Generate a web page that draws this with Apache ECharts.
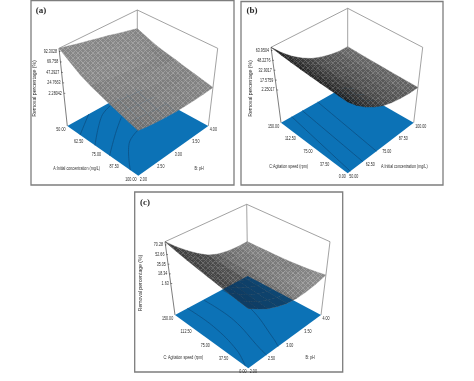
<!DOCTYPE html>
<html>
<head>
<meta charset="utf-8">
<script src="https://cdn.jsdelivr.net/npm/echarts@6/dist/echarts.min.js"></script>
<style>
html, body { margin: 0; padding: 0; background: #fff; }
#main { width: 474px; height: 381px; }
</style>
</head>
<body>
<div id="main"></div>
<script>
// removal percentage, rows run along the left-front floor edge
var surfaceA = [
    [92.3, 87.6, 82.9, 78.6, 74, 69.8, 64.6, 59.8, 55],
    [77, 73.3, 69.5, 65.8, 62, 58.3, 54.5, 50.8, 47],
    [63, 59.7, 56.5, 53.5, 50.5, 47.7, 45, 42.5, 40],
    [53, 49.9, 47, 44.4, 42, 39.9, 38, 36.4, 35],
    [46, 42.8, 40, 37.6, 35.5, 33.8, 32.5, 31.6, 31],
    [39, 35.9, 33.2, 30.8, 29, 27.6, 26.7, 26.1, 26],
    [33, 29.9, 27.3, 25.2, 23.5, 22.4, 21.8, 21.6, 22],
    [27, 23.8, 21.3, 19.2, 17.8, 17, 16.8, 17, 18],
    [22, 18.6, 16, 14, 12.6, 12, 12, 12.6, 14]
];
var surfaceB = [
    [63.9, 49, 37, 27.5, 20, 15, 11.5, 9.5, 9.5],
    [61.3, 46.9, 35.3, 26.1, 18.8, 14, 10.7, 8.8, 8.8],
    [59.1, 45.1, 33.9, 24.9, 17.8, 13.2, 10, 8.2, 8.2],
    [57.2, 43.5, 32.6, 23.9, 16.9, 12.4, 9.4, 7.7, 7.7],
    [55.6, 42.3, 31.6, 23, 16.2, 11.8, 8.9, 7.3, 7.3],
    [54.2, 41.1, 30.6, 22.3, 15.5, 11.3, 8.5, 6.9, 6.9],
    [52.9, 40.1, 29.8, 21.6, 14.9, 10.8, 8.1, 6.5, 6.5],
    [51.9, 39.2, 29.1, 21, 14.4, 10.4, 7.8, 6.2, 6.2],
    [51, 38.5, 28.5, 20.5, 14, 10, 7.5, 6, 6]
];
var surfaceC = [
    [70.3, 54, 40, 27.5, 17, 11, 8, 7, 7.7],
    [64.8, 49.7, 36.6, 25.3, 15.7, 10.5, 8.1, 7.2, 7.9],
    [60, 45.8, 33.5, 23.3, 14.6, 10, 8.2, 7.5, 8.2],
    [55.8, 42.5, 30.9, 21.5, 13.6, 9.6, 8.2, 7.9, 8.5],
    [52.1, 39.6, 28.6, 20, 12.8, 9.2, 8.3, 8.4, 9],
    [48.8, 37, 26.5, 18.6, 12, 8.9, 8.3, 9, 10],
    [45.5, 34.3, 24.4, 17.3, 11.3, 8.5, 8.4, 9.7, 11.3],
    [42.7, 32.2, 22.7, 16.1, 10.6, 8.3, 8.5, 10.3, 13.2],
    [40, 30, 21, 15, 10, 8, 8.5, 11, 15.6]
];

// floor contours as [first factor, second factor] pairs
var contoursA = [
    [[59, 2], [50, 2.61]],
    [[69.5, 2], [55.6, 2.75], [52.2, 3.13]],
    [[79.8, 2], [69.9, 2.57], [62.5, 3.04]],
    [[94.4, 2], [80, 2.55], [75.8, 2.98]]
];
var contoursB = [
    [[150, 58], [0, 52]],
    [[150, 66], [0, 61.5]],
    [[150, 77.5], [0, 71.8]]
];
var contoursC = [
    [[150, 2.34], [96.75, 2.34], [37.5, 2.19], [6, 2]],
    [[148.5, 2.78], [87.75, 2.77], [16.5, 2.54], [0, 2.5]],
    [[150, 3.29], [90, 3.26], [17, 2.92], [0, 2.82]]
];

var concentrationTicks = ['50.00', '62.50', '75.00', '87.50', '100.00'];
var agitationTicks = ['150.00', '112.50', '75.00', '37.50', '0.00'];
var phTicks = ['2.00', '2.50', '3.00', '3.50', '4.00'];
var zTicksA = ['92.3028', '69.758', '47.2927', '24.7663', '2.28042'];
var zTicksB = ['63.9504', '48.2276', '32.9017', '17.5759', '2.25017'];
var zTicksC = ['70.28', '52.66', '35.05', '18.34', '1.63'];

var zTitle = 'Removal percentage (%)';
var concentrationTitle = 'A:Initial concentration (mg/L)';
var agitationTitle = 'C:Agitation speed (rpm)';
var phTitle = 'B: pH';

var panels = [
    {
        name: '(a)', namePos: [41, 11],
        frame: [31, 0.5, 203, 184.5],
        floor: { L: [67.3, 126], F: [138.3, 175.7], R: [208.3, 126], K: [137.3, 87.3] },
        roof: { L: [59, 48.3], F: [138, 93.3], R: [217.7, 48.3], K: [137.3, 10] },
        zRange: [-63, 92.3],
        meshGray: 100,
        surface: surfaceA,
        contours: contoursA,
        uRange: [50, 100], vRange: [2, 4],
        uTicks: concentrationTicks, vTicks: phTicks, zTicks: zTicksA,
        uTitle: concentrationTitle, uTitlePos: [76.7, 168.3],
        vTitle: phTitle, vTitlePos: [199, 168.3],
        zTitlePos: [35, 88.5]
    },
    {
        name: '(b)', namePos: [252, 10.7],
        frame: [241, 1.5, 202, 183.5],
        floor: { L: [281, 122.7], F: [347.7, 173.3], R: [413.7, 122.7], K: [347.7, 85] },
        roof: { L: [271, 47.3], F: [347.7, 92.3], R: [422.7, 47.3], K: [347.7, 8.3] },
        zRange: [-45, 63.95],
        meshGray: 88,
        surface: surfaceB,
        contours: contoursB,
        uRange: [150, 0], vRange: [50, 100],
        uTicks: agitationTicks, vTicks: concentrationTicks, zTicks: zTicksB,
        uTitle: agitationTitle, uTitlePos: [288.7, 166.7],
        vTitle: concentrationTitle, vTitlePos: [404.3, 166.7],
        zTitlePos: [250.3, 88.5]
    },
    {
        name: '(c)', namePos: [145, 202.3],
        frame: [134.7, 192, 208, 180],
        floor: { L: [175, 315], F: [248.3, 368.3], R: [321, 315], K: [247.7, 276] },
        roof: { L: [165, 241.7], F: [248.3, 288.3], R: [330, 241.7], K: [246.7, 204.3] },
        zRange: [-50, 70.28],
        meshGray: 118,
        surface: surfaceC,
        contours: contoursC,
        uRange: [150, 0], vRange: [2, 4],
        seeThrough: true,
        uTicks: agitationTicks, vTicks: phTicks, zTicks: zTicksC,
        uTitle: 'C: Agitation speed (rpm)', uTitlePos: [183.3, 357.7],
        vTitle: phTitle, vTitlePos: [310, 357.7],
        zTitlePos: [141, 283]
    }
];

var BLUE = '#0c72b6';
var LINE = '#8a8a8a';
var TEXT = '#2b2b2b';
var FONT = '5.4px "Liberation Sans"';

// small tile that stands in for the fine wire mesh
var meshTile = document.createElement('canvas');
meshTile.width = meshTile.height = 5;
(function () {
    var ctx = meshTile.getContext('2d');
    for (var x = 0; x < 5; x++) {
        for (var y = 0; y < 5; y++) {
            var wire = (x + y) % 5 === 0 || (x - y + 5) % 5 === 0;
            ctx.fillStyle = wire ? 'rgba(255,255,255,0.14)' : 'rgba(0,0,0,0.07)';
            ctx.fillRect(x, y, 1, 1);
        }
    }
})();

// box scale: u runs L to F, v runs L to K, w runs floor to roof
function project(p, u, v, w) {
    function corner(c) {
        return [
            (1 - u) * (1 - v) * c.L[0] + u * (1 - v) * c.F[0] + u * v * c.R[0] + (1 - u) * v * c.K[0],
            (1 - u) * (1 - v) * c.L[1] + u * (1 - v) * c.F[1] + u * v * c.R[1] + (1 - u) * v * c.K[1]
        ];
    }
    var a = corner(p.floor), b = corner(p.roof);
    return [a[0] + (b[0] - a[0]) * w, a[1] + (b[1] - a[1]) * w];
}

function zFrac(p, z) {
    return (z - p.zRange[0]) / (p.zRange[1] - p.zRange[0]);
}

function polyArea(pts) {
    var s = 0;
    for (var i = 0; i < pts.length; i++) {
        var n = pts[(i + 1) % pts.length];
        s += pts[i][0] * n[1] - n[0] * pts[i][1];
    }
    return Math.abs(s) / 2;
}

function textEl(api, pos, text, opts) {
    var c = api.coord(pos);
    opts = opts || {};
    return {
        type: 'text',
        x: c[0],
        y: c[1],
        rotation: opts.rotation || 0,
        scaleX: opts.scaleX || 0.68,
        style: {
            text: text,
            font: opts.font || FONT,
            fill: TEXT,
            textAlign: opts.align || 'center',
            textVerticalAlign: 'middle'
        }
    };
}

function layer(items, draw, z) {
    return {
        type: 'custom',
        coordinateSystem: 'cartesian2d',
        silent: true,
        clip: false,
        animation: false,
        z: z,
        data: items.map(function (d, i) { return [i, 0]; }),
        renderItem: function (params, api) {
            return draw(items[params.dataIndex], api);
        }
    };
}

function poly(api, pts, style, closed) {
    return {
        type: closed ? 'polygon' : 'polyline',
        shape: { points: pts.map(function (q) { return api.coord(q); }) },
        style: style
    };
}

function floorOutline(p) {
    return [p.floor.L, p.floor.F, p.floor.R, p.floor.K];
}

function drawBox(p, api) {
    var lines = [
        [p.roof.L, p.roof.K, p.roof.R],
        [p.floor.R, p.roof.R],
        [p.floor.K, p.roof.K]
    ];
    var kids = lines.map(function (l) {
        return poly(api, l, { stroke: LINE, lineWidth: 0.8, fill: null }, false);
    });
    kids.push(poly(api, [p.floor.L, p.roof.L], { stroke: '#5c5c5c', lineWidth: 0.8, fill: null }, false));
    return { type: 'group', children: kids };
}

function drawFloor(p, api) {
    return poly(api, floorOutline(p), { fill: BLUE }, true);
}

function drawContours(p, api) {
    return {
        type: 'group',
        children: p.contours.map(function (line) {
            var pts = line.map(function (q) {
                return api.coord(project(p,
                    (q[0] - p.uRange[0]) / (p.uRange[1] - p.uRange[0]),
                    (q[1] - p.vRange[0]) / (p.vRange[1] - p.vRange[0]), 0));
            });
            return {
                type: 'polyline',
                shape: { points: pts, smooth: 0.4 },
                style: { stroke: '#0b4a7c', lineWidth: 0.7, fill: null }
            };
        })
    };
}

function cellPoints(p, c, lift) {
    var s = p.surface, n = s.length - 1, m = s[0].length - 1;
    return [[c.i, c.j], [c.i + 1, c.j], [c.i + 1, c.j + 1], [c.i, c.j + 1]].map(function (q) {
        return project(p, q[0] / n, q[1] / m, lift ? zFrac(p, s[q[0]][q[1]]) : 0);
    });
}

// darker where the mesh is squeezed together on screen
function cellGray(p, c) {
    var ratio = polyArea(cellPoints(p, c, true)) / polyArea(cellPoints(p, c, false));
    return Math.round(Math.max(22, Math.min(p.meshGray + 45, 12 + p.meshGray * ratio)));
}

function drawCell(c, api) {
    var g = cellGray(c.p, c);
    var col = 'rgb(' + g + ',' + g + ',' + g + ')';
    return poly(api, cellPoints(c.p, c, true), { fill: col, stroke: col, lineWidth: 0.4 }, true);
}

function drawMeshTexture(p, api) {
    var s = p.surface, n = s.length - 1, m = s[0].length - 1, pts = [], i;
    for (i = 0; i <= n; i++) pts.push(project(p, i / n, 0, zFrac(p, s[i][0])));
    for (i = 1; i <= m; i++) pts.push(project(p, 1, i / m, zFrac(p, s[n][i])));
    for (i = n - 1; i >= 0; i--) pts.push(project(p, i / n, 1, zFrac(p, s[i][m])));
    for (i = m - 1; i > 0; i--) pts.push(project(p, 0, i / m, zFrac(p, s[0][i])));
    return poly(api, pts, { fill: { image: meshTile, repeat: 'repeat' } }, true);
}

// the floor shows through the mesh where the surface hangs in front of it
function drawSeenThrough(c, api) {
    var g = cellGray(c.p, c);
    var el = poly(api, cellPoints(c.p, c, true), {
        fill: 'rgb(14,' + Math.round(42 + g * 0.24) + ',' + Math.round(72 + g * 0.36) + ')'
    }, true);
    el.clipPath = {
        type: 'polygon',
        shape: { points: floorOutline(c.p).map(function (q) { return api.coord(q); }) }
    };
    return el;
}

function drawLabels(p, api) {
    var kids = [];
    p.uTicks.forEach(function (t, i) {
        var q = project(p, i / 4, 0, 0);
        kids.push(textEl(api, [q[0] - 1.8, q[1] + 3.4], t, { align: 'right' }));
    });
    p.vTicks.forEach(function (t, i) {
        var q = project(p, 1, i / 4, 0);
        kids.push(textEl(api, [q[0] + 1.5, q[1] + 3.4], t, { align: 'left' }));
    });
    var z1 = zFrac(p, parseFloat(p.zTicks[0]));
    var z0 = zFrac(p, parseFloat(p.zTicks[4]));
    p.zTicks.forEach(function (t, i) {
        var q = project(p, 0, 0, z1 + (z0 - z1) * i / 4);
        var y = q[1] + (4 - i) * 0.8;
        kids.push(textEl(api, [q[0] - 2, y], t, { align: 'right' }));
        kids.push(poly(api, [[q[0], y], [q[0] + 1.5, y]], { stroke: '#333', lineWidth: 0.6, fill: null }, false));
    });
    kids.push(textEl(api, p.uTitlePos, p.uTitle));
    kids.push(textEl(api, p.vTitlePos, p.vTitle));
    kids.push(textEl(api, p.zTitlePos, zTitle, { rotation: Math.PI / 2, scaleX: 0.95 }));
    kids.push(textEl(api, p.namePos, p.name, { font: 'bold 9px "Liberation Serif"', scaleX: 1 }));
    return { type: 'group', children: kids };
}

function drawFrame(p, api) {
    var f = p.frame;
    var a = api.coord([f[0], f[1]]), b = api.coord([f[0] + f[2], f[1] + f[3]]);
    return {
        type: 'rect',
        shape: { x: a[0], y: a[1], width: b[0] - a[0], height: b[1] - a[1] },
        style: { fill: null, stroke: '#7d7d7d', lineWidth: 1.3 }
    };
}

var series = [layer(panels, drawFrame, 1), layer(panels, drawBox, 2)];
panels.forEach(function (p) {
    var cells = [];
    // back to front so nearer cells cover farther ones
    for (var i = 0; i < p.surface.length - 1; i++) {
        for (var j = p.surface[0].length - 2; j >= 0; j--) {
            cells.push({ p: p, i: i, j: j });
        }
    }
    series.push(layer([p], drawFloor, 3));
    series.push(layer([p], drawContours, 3));
    series.push(layer(cells, drawCell, 4));
    series.push(layer([p], drawMeshTexture, 4));
    if (p.seeThrough) {
        series.push(layer(cells, drawSeenThrough, 5));
    }
});
series.push(layer(panels, drawLabels, 7));

var option = {
    backgroundColor: '#fff',
    animation: false,
    grid: { left: 0, right: 0, top: 0, bottom: 0 },
    xAxis: { type: 'value', min: 0, max: 474, show: false },
    yAxis: { type: 'value', min: 0, max: 381, inverse: true, show: false },
    series: series
};

var chart = echarts.init(document.getElementById('main'), null, { renderer: 'canvas' });
chart.setOption(option);
</script>
</body>
</html>
